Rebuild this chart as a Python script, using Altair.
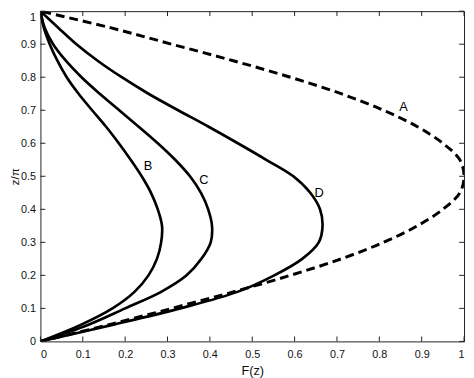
import altair as alt
import pandas as pd

# z/pi levels (vertical axis) and F(z) values
z_levels = [0.0, 0.05, 0.1, 0.15, 0.2, 0.25, 0.3, 0.35, 0.4, 0.45, 0.5,
            0.55, 0.6, 0.65, 0.7, 0.75, 0.8, 0.85, 0.9, 0.95, 1.0]
f_A = [0.0, 0.16, 0.31, 0.455, 0.59, 0.71, 0.81, 0.89, 0.95, 0.99, 1.0,
       0.99, 0.95, 0.89, 0.81, 0.71, 0.59, 0.455, 0.31, 0.165, 0.0]
f_B = [0.0, 0.095, 0.17, 0.222, 0.255, 0.275, 0.285, 0.287, 0.277, 0.261, 0.239,
       0.213, 0.185, 0.155, 0.122, 0.09, 0.062, 0.04, 0.022, 0.008, 0.0]
f_C = [0.0, 0.112, 0.2, 0.285, 0.345, 0.38, 0.402, 0.405, 0.396, 0.379, 0.353,
       0.318, 0.277, 0.232, 0.186, 0.14, 0.097, 0.06, 0.03, 0.01, 0.0]
f_D = [0.0, 0.17, 0.33, 0.465, 0.552, 0.618, 0.657, 0.666, 0.66, 0.637, 0.597,
       0.533, 0.466, 0.397, 0.325, 0.255, 0.192, 0.135, 0.085, 0.042, 0.0]

curve_names = ["A", "B", "C", "D"]
label_x = [0.857, 0.254, 0.386, 0.658]
label_y = [0.709, 0.532, 0.488, 0.45]

tick_values = [0.0, 0.1, 0.2, 0.3, 0.4, 0.5, 0.6, 0.7, 0.8, 0.9, 1.0]

rows = []
for name, fs in zip(curve_names, [f_A, f_B, f_C, f_D]):
    for i, (zv, fv) in enumerate(zip(z_levels, fs)):
        rows.append({"curve": name, "i": i, "F": fv, "z": zv})
df = pd.DataFrame(rows)
labels_df = pd.DataFrame({"name": curve_names, "x": label_x, "y": label_y})
ticks_df = pd.DataFrame({"t": tick_values})

W, H = 431, 336
FONT = "Liberation Sans"

xs = alt.Scale(domain=[0, 1], nice=False, zero=False)
ys = alt.Scale(domain=[0, 1], nice=False, zero=False)

x_axis = alt.Axis(values=tick_values, format="~g", grid=False, domain=False,
                  ticks=False, tickSize=0, labelPadding=7, labelFont=FONT,
                  labelFontSize=11, labelColor="#111", labelOverlap=False,
                  title="F(z)", titleFont=FONT, titleFontSize=13,
                  titleFontWeight="normal", titleColor="#111", titlePadding=6)
y_axis = alt.Axis(values=tick_values, format="~g", grid=False, domain=False,
                  ticks=False, tickSize=0, labelPadding=5, labelFont=FONT,
                  labelFontSize=11, labelColor="#111", labelOverlap=False,
                  labelBaseline={"condition": {"test": "datum.value == 1", "value": "top"},
                                 "value": "middle"},
                  title="z/π", titleFont=FONT, titleFontSize=12,
                  titleFontWeight="normal", titleColor="#111", titleX=-22,
                  titleY=H / 2, titleBaseline="alphabetic", titleAngle=270,
                  titleAlign="center")


def X(field):
    return alt.X(field, scale=xs, axis=x_axis, title="F(z)")


def Y(field):
    return alt.Y(field, scale=ys, axis=y_axis, title="z/π")


base = alt.Chart(df)

solid = base.transform_filter(alt.datum.curve != "A").mark_line(
    color="black", strokeWidth=2.7, clip=True, interpolate="catmull-rom"
).encode(
    x=X("F:Q"),
    y=Y("z:Q"),
    detail="curve:N",
    order="i:Q",
)

dashed = base.transform_filter(alt.datum.curve == "A").mark_line(
    color="black", strokeWidth=3, strokeDash=[9, 5], clip=True,
    interpolate="catmull-rom"
).encode(
    x=X("F:Q"),
    y=Y("z:Q"),
    order="i:Q",
)

text = alt.Chart(labels_df).mark_text(
    font=FONT, fontSize=13, color="black", align="center", baseline="middle"
).encode(
    x=X("x:Q"),
    y=Y("y:Q"),
    text="name:N",
)

tick_style = dict(color="#222", strokeWidth=1)
tb = alt.Chart(ticks_df).mark_rule(**tick_style).encode(
    x=X("t:Q"), y=alt.value(H), y2=alt.value(H - 5))
tt = alt.Chart(ticks_df).mark_rule(**tick_style).encode(
    x=X("t:Q"), y=alt.value(0), y2=alt.value(5))
tl = alt.Chart(ticks_df).mark_rule(**tick_style).encode(
    y=Y("t:Q"), x=alt.value(0), x2=alt.value(5))
tr = alt.Chart(ticks_df).mark_rule(**tick_style).encode(
    y=Y("t:Q"), x=alt.value(W), x2=alt.value(W - 5))

chart = alt.layer(solid, dashed, text, tb, tt, tl, tr).properties(
    width=W, height=H,
    autosize=alt.AutoSizeParams(type="none"),
    padding={"left": 33, "top": 0, "right": 2, "bottom": 34},
    background="white",
).configure_view(stroke="#222", strokeWidth=1)

chart.save("out.html", embed_options={"renderer": "svg", "actions": False})
